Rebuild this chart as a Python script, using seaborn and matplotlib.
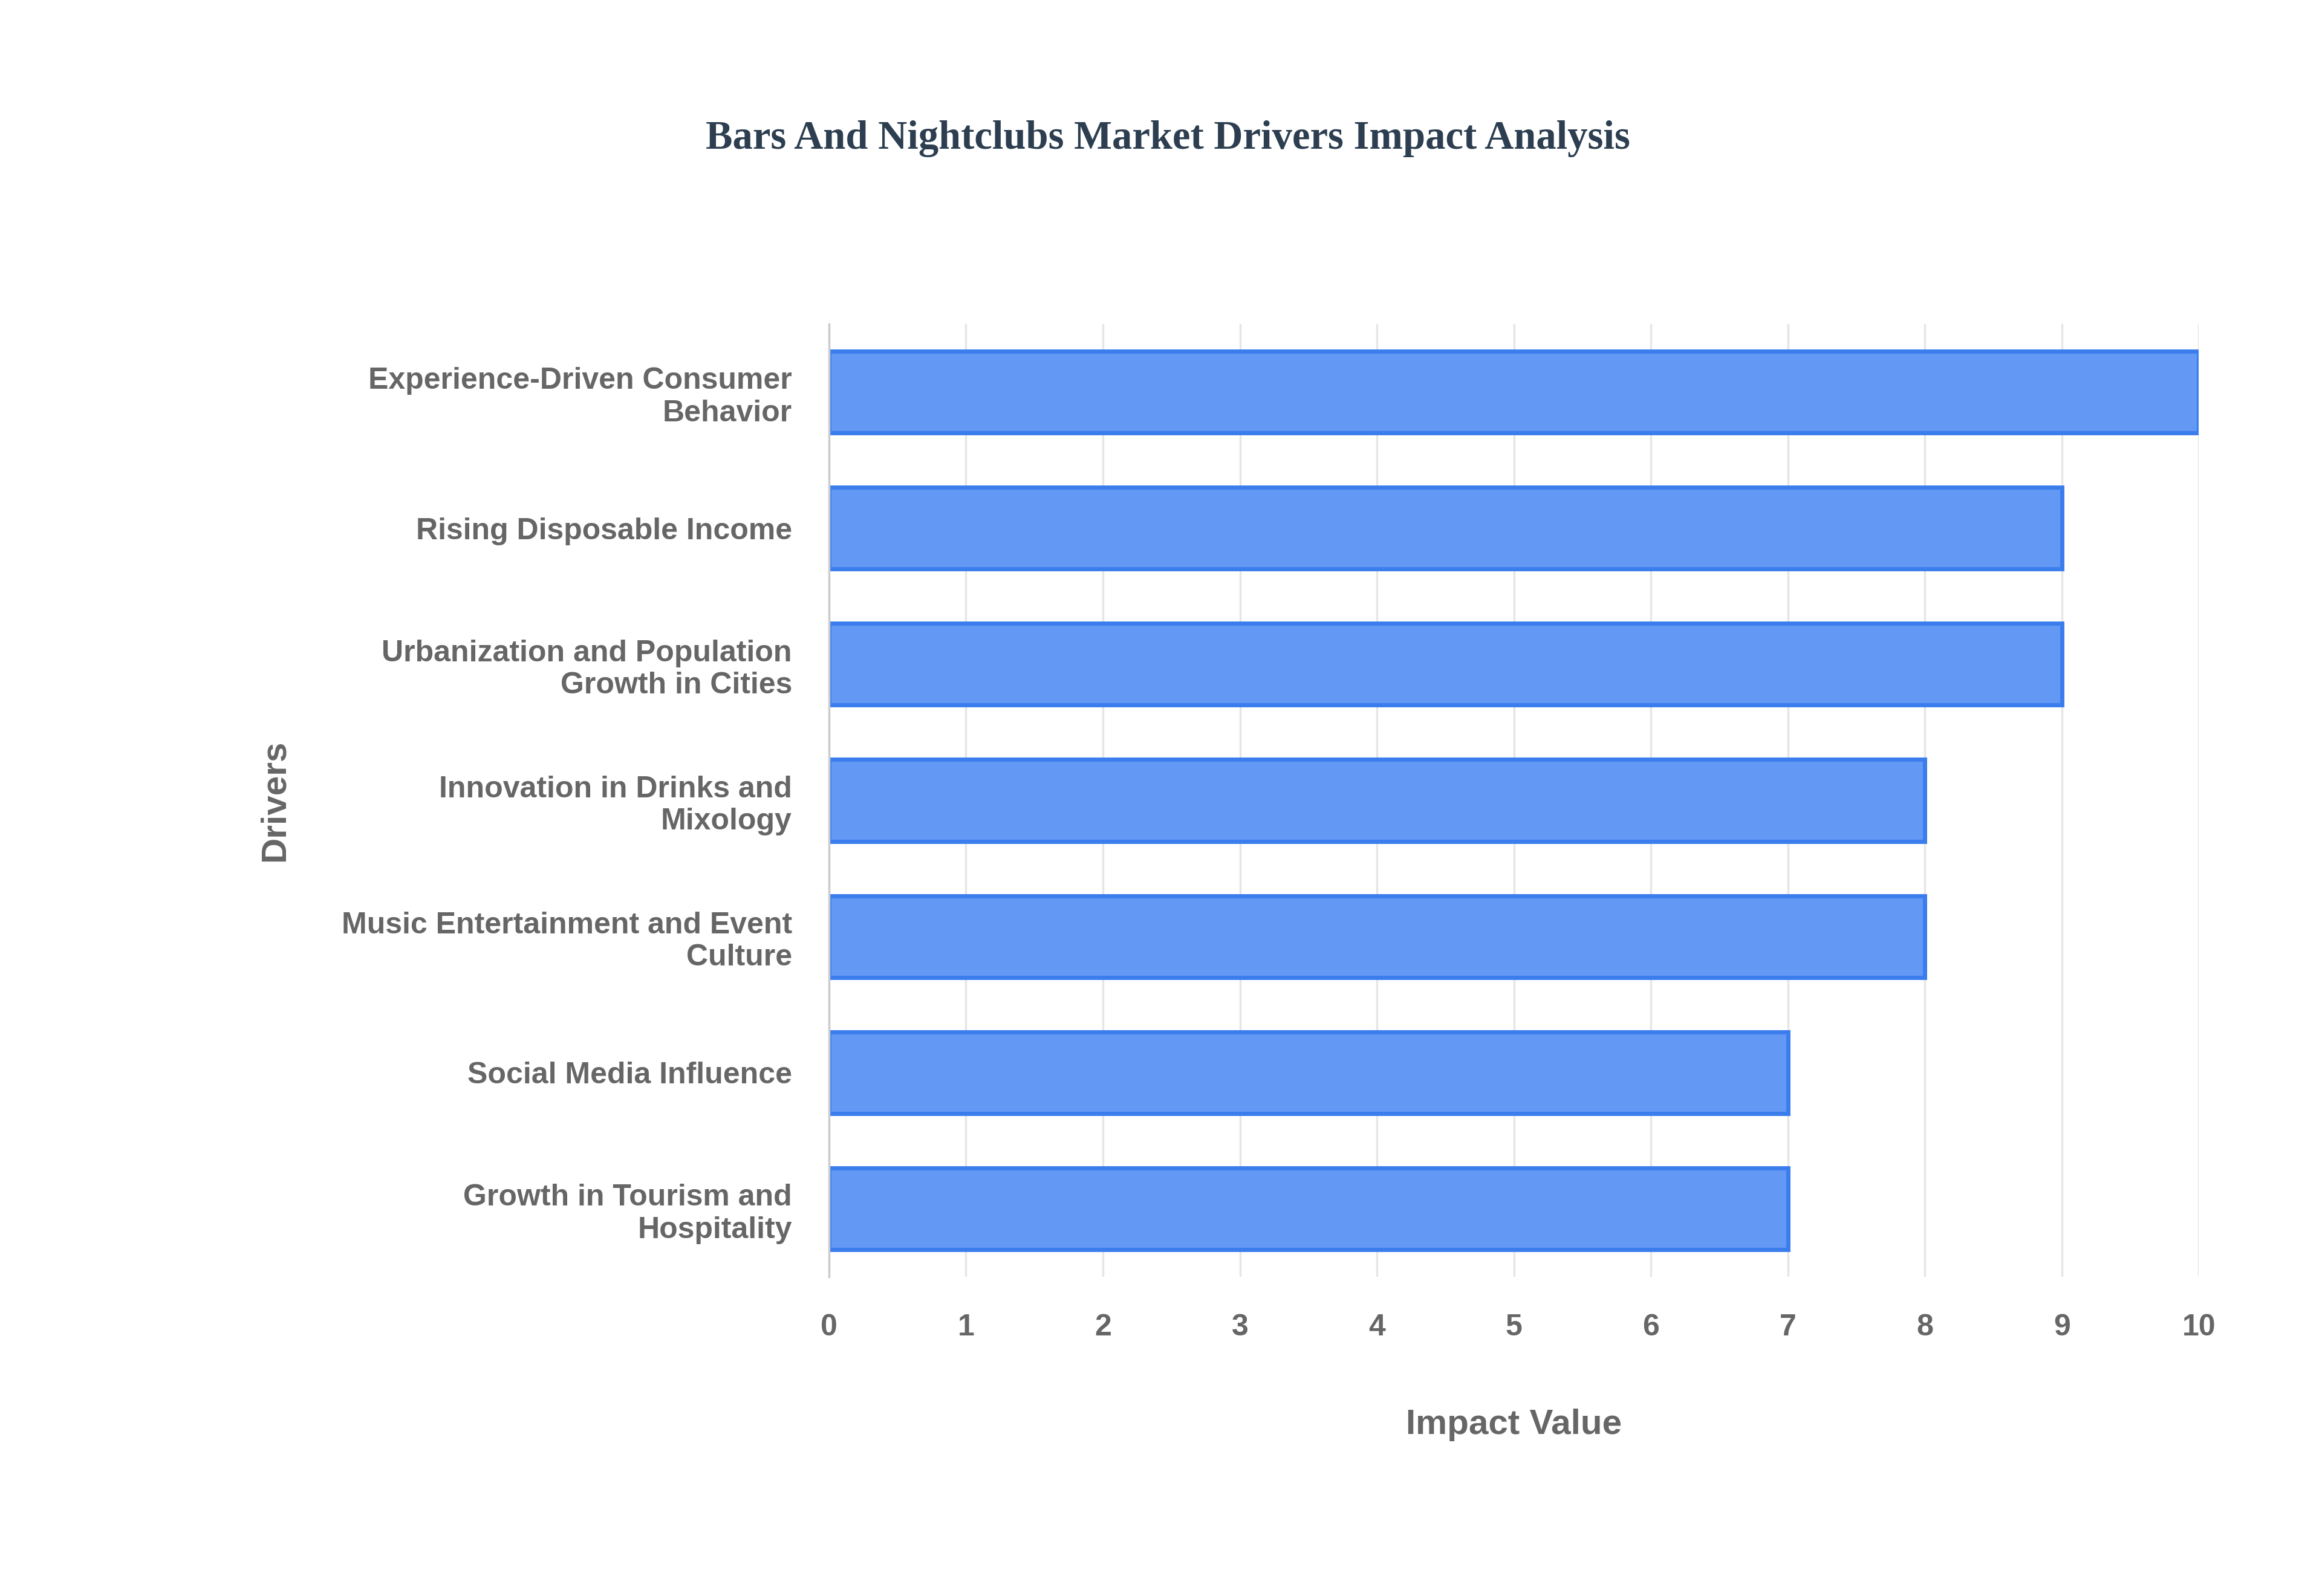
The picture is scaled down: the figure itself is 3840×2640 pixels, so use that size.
import matplotlib
matplotlib.use("Agg")
import matplotlib.pyplot as plt
import seaborn as sns
import pandas as pd

drivers = ["Experience-Driven Consumer\nBehavior", "Rising Disposable Income",
           "Urbanization and Population\nGrowth in Cities", "Innovation in Drinks and\nMixology",
           "Music Entertainment and Event\nCulture", "Social Media Influence",
           "Growth in Tourism and\nHospitality"]
impact = [10, 9, 9, 8, 8, 7, 7]
df = pd.DataFrame({"Driver": drivers, "Impact": impact})

sns.set_theme(style="white")
plt.rcParams['font.family'] = ['Liberation Sans', 'DejaVu Sans']
fig = plt.figure(figsize=(19.2, 13.2), dpi=200)
ax = fig.add_axes([0.357, 0.2, 0.59, 0.597])
sns.barplot(data=df, x="Impact", y="Driver", orient="h", ax=ax, color="#6399F5",
            edgecolor="#3B7DED", linewidth=2.5, width=0.6, saturation=1)
ax.set_xlim(0, 10)
ax.set_xticks(range(11))
ax.grid(axis="x", color="#E5E5E5", linewidth=1.2)
ax.set_axisbelow(True)
for s in ["top", "right", "bottom"]:
    ax.spines[s].set_visible(False)
ax.spines["left"].set_color("#CCCCCC")
ax.tick_params(axis="x", length=0, pad=22, labelsize=18, labelcolor="#666666")
ax.tick_params(axis="y", length=0, pad=22, labelsize=18, labelcolor="#666666")
for t in ax.get_xticklabels() + ax.get_yticklabels():
    t.set_fontweight("bold")
ax.set_xlabel("Impact Value", fontsize=21, fontweight="bold", color="#666666", labelpad=40)
ax.set_ylabel("Drivers", fontsize=21, fontweight="bold", color="#666666", labelpad=30)
fig.text(0.503, 0.913, "Bars And Nightclubs Market Drivers Impact Analysis",
         ha="center", va="center", fontsize=24, fontweight="bold", color="#2C3E50",
         family=["Liberation Serif", "DejaVu Serif"])
fig.savefig("out.png", dpi=200, facecolor="white")
